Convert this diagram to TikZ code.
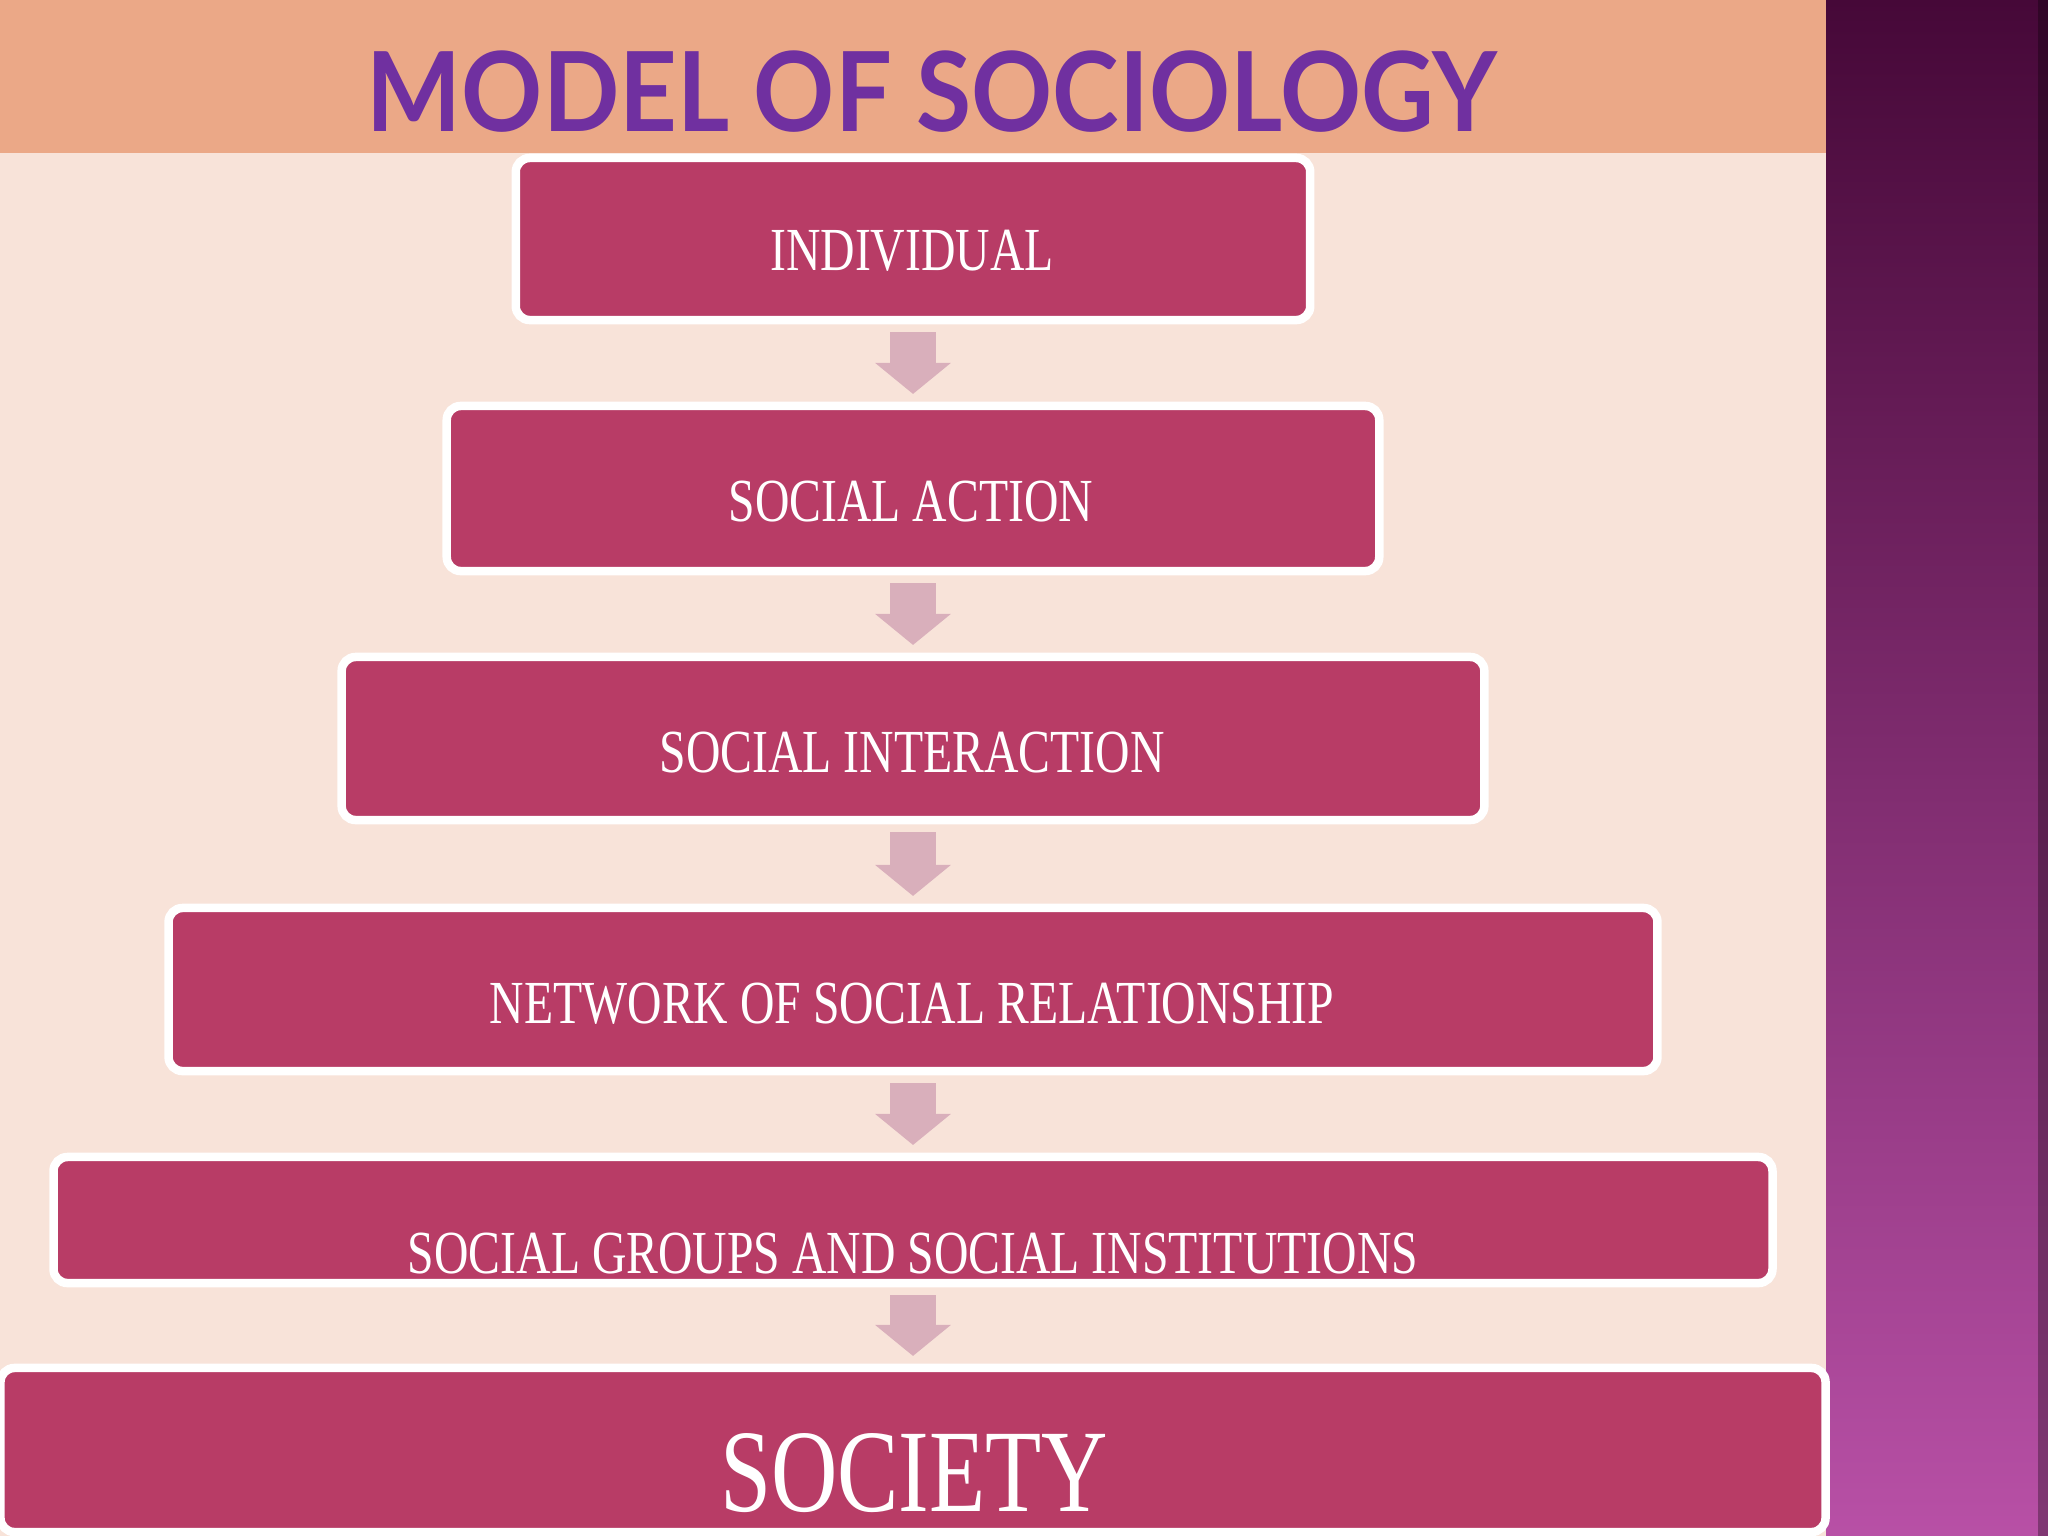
\documentclass[tikz,border=0pt]{standalone}
\usepackage{fontspec}
\usetikzlibrary{arrows.meta}
\newfontfamily\boxfont[FakeStretch=0.78]{Liberation Serif}
\newfontfamily\titlefont[FakeStretch=0.91]{Lato}
\definecolor{hdr}{HTML}{EBA887}
\definecolor{bodybg}{HTML}{F8E3D9}
\definecolor{boxfill}{HTML}{B83C66}
\definecolor{arrowc}{HTML}{D9AFBB}
\definecolor{titlec}{HTML}{7030A0}
\definecolor{paneltop}{HTML}{460838}
\definecolor{panelmid}{HTML}{7A2A6E}
\definecolor{panelbot}{HTML}{B850A6}
\begin{document}
\begin{tikzpicture}[x=0.01cm,y=-0.01cm,
  stagebox/.style={draw=white, line width=0.085cm, fill=boxfill, rounded corners=0.14cm, inner sep=0pt, outer sep=0pt},
  stagetext/.style={anchor=base, text=white, font=\boxfont\fontsize{17.4}{20}\selectfont, inner sep=0pt},
  flowarrow/.style={draw=arrowc, line width=0.46cm, -{Triangle[length=0.31cm,width=0.74cm]}, shorten <=0.12cm, shorten >=0.12cm}
]
\useasboundingbox (0,0) rectangle (2048,1536);
% backgrounds
\fill[bodybg] (0,153) rectangle (1826,1536);
\fill[hdr] (0,0) rectangle (1826,153);
\shade[top color=paneltop, middle color=panelmid, bottom color=panelbot] (1826,0) rectangle (2048,1536);
\fill[black, fill opacity=0.3] (2038,0) rectangle (2048,1536);
% title
\node[anchor=base, text=titlec, font=\titlefont\bfseries\fontsize{31.4}{36}\selectfont, inner sep=0pt] (title) at (932,131) {MODEL OF SOCIOLOGY};
% boxes
\node[stagebox, minimum width=7.94cm, minimum height=1.62cm] (b1) at (913,239) {};
\node[stagebox, minimum width=9.32cm, minimum height=1.65cm] (b2) at (913,488.5) {};
\node[stagebox, minimum width=11.42cm, minimum height=1.63cm] (b3) at (913,738.5) {};
\node[stagebox, minimum width=14.88cm, minimum height=1.63cm] (b4) at (913,989.5) {};
\node[stagebox, minimum width=17.18cm, minimum height=1.26cm] (b5) at (913,1220) {};
\node[stagebox, minimum width=18.24cm, minimum height=1.64cm] (b6) at (913,1450) {};
% texts
\node[stagetext] (t1) at (912,270) {INDIVIDUAL};
\node[stagetext] (t2) at (911,521) {SOCIAL ACTION};
\node[stagetext] (t3) at (912,772) {SOCIAL INTERACTION};
\node[stagetext] (t4) at (912,1023) {NETWORK OF SOCIAL RELATIONSHIP};
\node[stagetext] (t5) at (913,1273) {SOCIAL GROUPS AND SOCIAL INSTITUTIONS};
\node[stagetext, font=\boxfont\fontsize{33.5}{38}\selectfont] (t6) at (914,1511) {SOCIETY};
% arrows
\draw[flowarrow] (b1.south) -- (b2.north);
\draw[flowarrow] (b2.south) -- (b3.north);
\draw[flowarrow] (b3.south) -- (b4.north);
\draw[flowarrow] (b4.south) -- (b5.north);
\draw[flowarrow] (b5.south) -- (b6.north);
\end{tikzpicture}
\end{document}
